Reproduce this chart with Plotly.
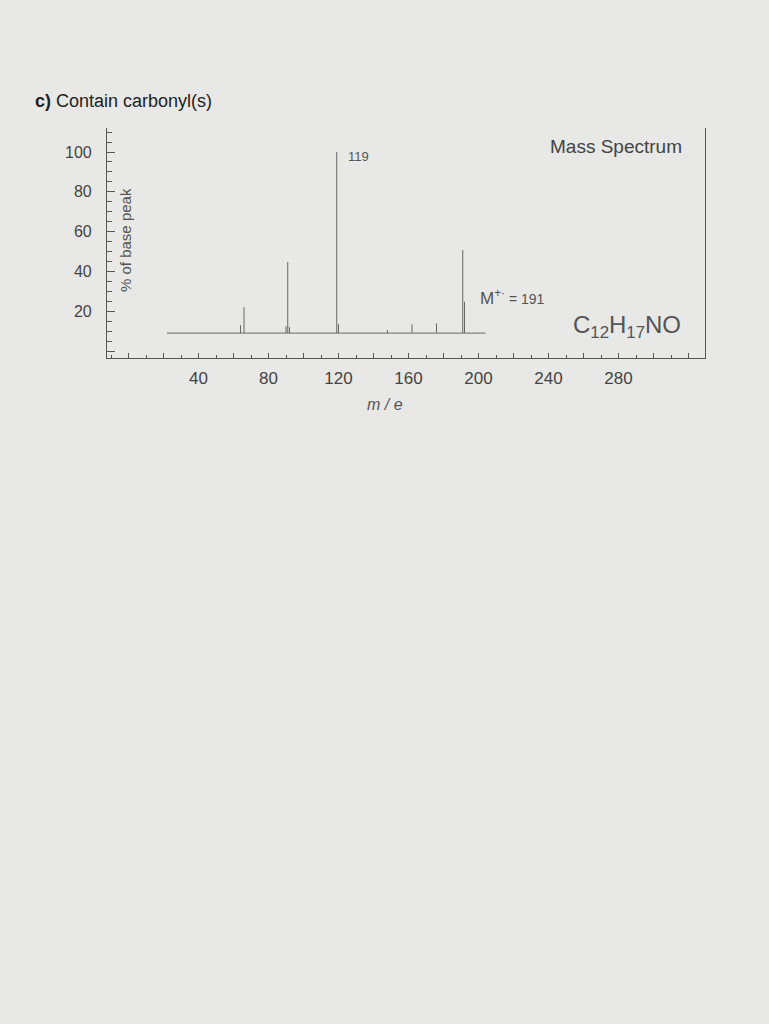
import plotly.graph_objects as go

# ---- data ----
mz_values = [64, 66, 90, 91, 92, 119, 120, 148, 162, 176, 191, 192]
peak_tops = [13, 22, 12.5, 44.7, 12, 100, 13.5, 10.5, 13.4, 13.9, 50.7, 24.8]
baseline_level = 9
baseline_span = [22, 204]
x_tick_vals = [0, 20, 40, 60, 80, 100, 120, 140, 160, 180, 200, 220, 240, 260, 280, 300, 320]
x_tick_text = ["", "", "40", "", "80", "", "120", "", "160", "", "200", "", "240", "", "280", "", ""]
y_tick_vals = [0, 20, 40, 60, 80, 100]
y_tick_text = ["", "20", "40", "60", "80", "100"]

W, H = 769, 1024
BG = "#e8e8e6"
INK = "#555555"

def px(x):
    return x / W

def py(y):
    return 1 - y / H

xs, ys = [], []
for m, t in zip(mz_values, peak_tops):
    xs += [m, m, None]
    ys += [baseline_level, t, None]

fig = go.Figure()
fig.add_trace(go.Scatter(x=baseline_span, y=[baseline_level, baseline_level], mode="lines",
                         line=dict(color="#666666", width=1), hoverinfo="skip", showlegend=False))
fig.add_trace(go.Scatter(x=xs, y=ys, mode="lines", line=dict(color="#666666", width=1),
                         showlegend=False))

fig.update_layout(
    width=W, height=H,
    margin=dict(l=0, r=0, t=0, b=0),
    paper_bgcolor=BG, plot_bgcolor=BG,
    font=dict(family="Liberation Sans, Arial, sans-serif", color="#444444"),
    xaxis=dict(domain=[px(107), px(705)], range=[(107 - 128.5) / 1.75, (705 - 128.5) / 1.75],
               showgrid=False, zeroline=False, showline=True, linecolor=INK, linewidth=1.2,
               tickmode="array", tickvals=x_tick_vals, ticktext=x_tick_text,
               ticks="inside", ticklen=5, tickcolor=INK, tickfont=dict(size=17, color="#444444"),
               ticklabelstandoff=4,
               minor=dict(dtick=10, tick0=0, ticks="inside", ticklen=3, tickcolor=INK)),
    yaxis=dict(domain=[py(358), py(128)], range=[(351 - 358) / 1.99, (351 - 128) / 1.99],
               showgrid=False, zeroline=False, showline=True, linecolor=INK, linewidth=1.2,
               mirror=True,
               tickmode="array", tickvals=y_tick_vals, ticktext=y_tick_text,
               ticks="inside", ticklen=8, tickcolor=INK, tickfont=dict(size=16, color="#444444"),
               ticklabelstandoff=11,
               minor=dict(dtick=5, tick0=0, ticks="inside", ticklen=5, tickcolor=INK)),
)

annotations = [
    dict(text="<b>c)</b> Contain carbonyl(s)", x=px(33), y=py(101), xref="paper", yref="paper",
         xanchor="left", yanchor="middle", showarrow=False, font=dict(size=18, color="#222222")),
    dict(text="Mass Spectrum", x=px(684), y=py(146), xref="paper", yref="paper",
         xanchor="right", yanchor="middle", showarrow=False, font=dict(size=19, color="#444444")),
    dict(text="% of base peak", x=px(125), y=py(240), xref="paper", yref="paper",
         xanchor="center", yanchor="middle", textangle=-90, showarrow=False,
         font=dict(size=15, color="#555555")),
    dict(text="<i>m / e</i>", x=px(385), y=py(404), xref="paper", yref="paper",
         xanchor="center", yanchor="middle", showarrow=False, font=dict(size=16, color="#555555")),
    dict(text="119", x=124.5, y=97.5, xref="x", yref="y", xanchor="left", yanchor="middle",
         showarrow=False, font=dict(size=13, color="#555555")),
    dict(text="M<sup>+·</sup><span style='font-size:14px'> = 191</span>", x=199.5, y=27,
         xref="x", yref="y", xanchor="left", yanchor="middle", showarrow=False,
         font=dict(size=17, color="#555555")),
    dict(text="C<sub>12</sub>H<sub>17</sub>NO", x=253, y=12.5, xref="x", yref="y",
         xanchor="left", yanchor="middle", showarrow=False, font=dict(size=24, color="#555555")),
]
fig.update_layout(annotations=annotations)

fig.write_html("out.html", config={"displayModeBar": False},
               post_script="document.body.style.margin='0';")
